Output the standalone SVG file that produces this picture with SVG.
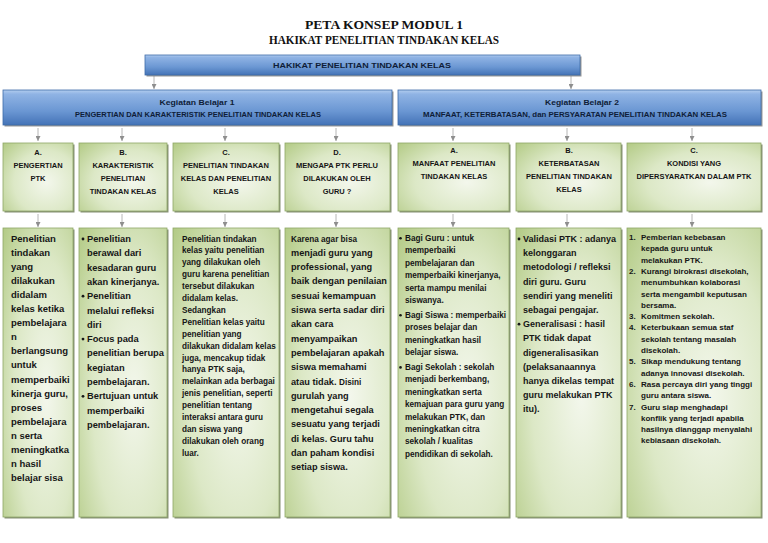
<svg xmlns="http://www.w3.org/2000/svg" width="768" height="543" viewBox="0 0 768 543">
<defs>
<linearGradient id="blue" x1="0" y1="0" x2="0" y2="1">
<stop offset="0" stop-color="#b3cdef"/>
<stop offset="0.12" stop-color="#8fb3e4"/>
<stop offset="0.6" stop-color="#6b97d3"/>
<stop offset="1" stop-color="#4473b7"/>
</linearGradient>
<radialGradient id="green" cx="0.62" cy="0.58" r="0.85">
<stop offset="0" stop-color="#f3f7ec"/>
<stop offset="0.55" stop-color="#dce8c6"/>
<stop offset="1" stop-color="#b2ca84"/>
</radialGradient>
<marker id="ah" markerUnits="userSpaceOnUse" markerWidth="5" markerHeight="5" refX="5" refY="2.5" orient="auto">
<path d="M0,0 L5,2.5 L0,5 z" fill="#8e8e8e"/>
</marker>
<style>
.title{font-family:"Liberation Serif","Times New Roman",serif;font-weight:bold;font-size:12px;fill:#111;}
.bbox{fill:url(#blue);stroke:#3e6ba9;stroke-width:0.8;}
.bsh{fill:#7d7d7d;opacity:0.8;}
.gbox{fill:url(#green);stroke:#8ea766;stroke-width:0.8;}
.gsh{fill:#5e6b47;opacity:0.75;}
.bt{font-family:"Liberation Sans",Arial,sans-serif;font-size:7.5px;font-weight:bold;fill:#0f1d38;text-anchor:middle;}
.bth{font-family:"Liberation Sans",Arial,sans-serif;font-size:8px;font-weight:bold;fill:#0f1d38;text-anchor:middle;}
.h3{font-family:"Liberation Sans",Arial,sans-serif;font-size:7.5px;font-weight:bold;fill:#161616;text-anchor:middle;}
.t{font-family:"Liberation Sans",Arial,sans-serif;font-weight:bold;fill:#161616;}
.conn line{stroke:#a3a3a3;stroke-width:0.8;marker-end:url(#ah);}
.dot{fill:#161616;}
</style>
</defs>
<rect width="768" height="543" fill="#ffffff"/>

<g id="title">
<text class="title" x="384" y="29" text-anchor="middle" textLength="158" lengthAdjust="spacingAndGlyphs">PETA KONSEP MODUL 1</text>
<text class="title" x="384" y="44" text-anchor="middle" textLength="230" lengthAdjust="spacingAndGlyphs">HAKIKAT PENELITIAN TINDAKAN KELAS</text>
</g>

<g class="conn" id="connectors">
<line x1="154" y1="76" x2="154" y2="89"/>
<line x1="571" y1="76" x2="571" y2="89"/>
<line x1="38" y1="128" x2="38" y2="141"/>
<line x1="122" y1="128" x2="122" y2="141"/>
<line x1="225" y1="128" x2="225" y2="141"/>
<line x1="336" y1="128" x2="336" y2="141"/>
<line x1="453" y1="128" x2="453" y2="141"/>
<line x1="567" y1="128" x2="567" y2="141"/>
<line x1="692" y1="128" x2="692" y2="141"/>
<line x1="38" y1="214" x2="38" y2="227"/>
<line x1="122" y1="214" x2="122" y2="227"/>
<line x1="225" y1="214" x2="225" y2="227"/>
<line x1="336" y1="214" x2="336" y2="227"/>
<line x1="453" y1="214" x2="453" y2="227"/>
<line x1="567" y1="214" x2="567" y2="227"/>
<line x1="692" y1="214" x2="692" y2="227"/>
</g>

<g id="root">
<rect class="bsh" x="146.5" y="56.5" width="435" height="20"/>
<rect class="bbox" x="145" y="55" width="435" height="20"/>
<text class="bth" x="362" y="68" textLength="178" lengthAdjust="spacingAndGlyphs">HAKIKAT PENELITIAN TINDAKAN KELAS</text>
</g>

<g id="kb1">
<rect class="bsh" x="4.5" y="91.5" width="389" height="35"/>
<rect class="bbox" x="3" y="90" width="389" height="35"/>
<text class="bt" x="197" y="104.5" textLength="75" lengthAdjust="spacingAndGlyphs">Kegiatan Belajar 1</text>
<text class="bt" x="198" y="116.5" textLength="246" lengthAdjust="spacingAndGlyphs">PENGERTIAN DAN KARAKTERISTIK PENELITIAN TINDAKAN KELAS</text>
</g>

<g id="kb2">
<rect class="bsh" x="399.5" y="91.5" width="363" height="35"/>
<rect class="bbox" x="398" y="90" width="363" height="35"/>
<text class="bt" x="582" y="104.5" textLength="74" lengthAdjust="spacingAndGlyphs">Kegiatan Belajar 2</text>
<text class="bt" x="575" y="116.5" textLength="304" lengthAdjust="spacingAndGlyphs">MANFAAT, KETERBATASAN, dan PERSYARATAN PENELITIAN TINDAKAN KELAS</text>
</g>

<!-- Level 3 -->
<g id="h-a1">
<rect class="gsh" x="4.5" y="144.5" width="70" height="68"/>
<rect class="gbox" x="3" y="143" width="70" height="68"/>
<text class="h3" x="38" y="155">A.</text>
<text class="h3" x="38" y="168">PENGERTIAN</text>
<text class="h3" x="38" y="181">PTK</text>
</g>
<g id="h-b1">
<rect class="gsh" x="80.5" y="144.5" width="88" height="68"/>
<rect class="gbox" x="79" y="143" width="88" height="68"/>
<text class="h3" x="123" y="155">B.</text>
<text class="h3" x="123" y="168">KARAKTERISTIK</text>
<text class="h3" x="123" y="181">PENELITIAN</text>
<text class="h3" x="123" y="194">TINDAKAN KELAS</text>
</g>
<g id="h-c1">
<rect class="gsh" x="174.5" y="144.5" width="106" height="68"/>
<rect class="gbox" x="173" y="143" width="106" height="68"/>
<text class="h3" x="226" y="155">C.</text>
<text class="h3" x="226" y="168">PENELITIAN TINDAKAN</text>
<text class="h3" x="226" y="181">KELAS DAN PENELITIAN</text>
<text class="h3" x="226" y="194">KELAS</text>
</g>
<g id="h-d1">
<rect class="gsh" x="286.5" y="144.5" width="105" height="68"/>
<rect class="gbox" x="285" y="143" width="105" height="68"/>
<text class="h3" x="337" y="155">D.</text>
<text class="h3" x="337" y="168">MENGAPA PTK PERLU</text>
<text class="h3" x="337" y="181">DILAKUKAN OLEH</text>
<text class="h3" x="337" y="194">GURU ?</text>
</g>
<g id="h-a2">
<rect class="gsh" x="399.5" y="144.5" width="111" height="68"/>
<rect class="gbox" x="398" y="143" width="111" height="68"/>
<text class="h3" x="454" y="153">A.</text>
<text class="h3" x="454" y="166">MANFAAT PENELITIAN</text>
<text class="h3" x="454" y="179">TINDAKAN KELAS</text>
</g>
<g id="h-b2">
<rect class="gsh" x="517.5" y="144.5" width="105" height="68"/>
<rect class="gbox" x="516" y="143" width="105" height="68"/>
<text class="h3" x="569" y="153">B.</text>
<text class="h3" x="569" y="166">KETERBATASAN</text>
<text class="h3" x="569" y="179">PENELITIAN TINDAKAN</text>
<text class="h3" x="569" y="192">KELAS</text>
</g>
<g id="h-c2">
<rect class="gsh" x="628.5" y="144.5" width="134" height="68"/>
<rect class="gbox" x="627" y="143" width="134" height="68"/>
<text class="h3" x="694" y="153">C.</text>
<text class="h3" x="694" y="166">KONDISI YANG</text>
<text class="h3" x="694" y="179">DIPERSYARATKAN DALAM PTK</text>
</g>

<!-- Level 4 -->
<g id="d-a1">
<rect class="gsh" x="4.5" y="229.5" width="70" height="289"/>
<rect class="gbox" x="3" y="228" width="70" height="289"/>
<text class="t" font-size="9.5" x="11" y="241.5">
<tspan x="11" dy="0">Penelitian</tspan>
<tspan x="11" dy="14.1">tindakan</tspan>
<tspan x="11" dy="14.1">yang</tspan>
<tspan x="11" dy="14.1">dilakukan</tspan>
<tspan x="11" dy="14.1">didalam</tspan>
<tspan x="11" dy="14.1">kelas ketika</tspan>
<tspan x="11" dy="14.1">pembelajara</tspan>
<tspan x="11" dy="14.1">n</tspan>
<tspan x="11" dy="14.1">berlangsung</tspan>
<tspan x="11" dy="14.1">untuk</tspan>
<tspan x="11" dy="14.1">memperbaiki</tspan>
<tspan x="11" dy="14.1">kinerja guru,</tspan>
<tspan x="11" dy="14.1">proses</tspan>
<tspan x="11" dy="14.1">pembelajara</tspan>
<tspan x="11" dy="14.1">n serta</tspan>
<tspan x="11" dy="14.1">meningkatka</tspan>
<tspan x="11" dy="14.1">n hasil</tspan>
<tspan x="11" dy="14.1">belajar sisa</tspan>
</text>
</g>

<g id="d-b1">
<rect class="gsh" x="80.5" y="229.5" width="88" height="289"/>
<rect class="gbox" x="79" y="228" width="88" height="289"/>
<circle class="dot" cx="83" cy="239" r="1.4"/>
<circle class="dot" cx="83" cy="296.2" r="1.4"/>
<circle class="dot" cx="83" cy="339.1" r="1.4"/>
<circle class="dot" cx="83" cy="396.3" r="1.4"/>
<text class="t" font-size="9.3" x="87" y="242">
<tspan x="87" dy="0">Penelitian</tspan>
<tspan x="87" dy="14.3">berawal dari</tspan>
<tspan x="87" dy="14.3">kesadaran guru</tspan>
<tspan x="87" dy="14.3">akan kinerjanya.</tspan>
<tspan x="87" dy="14.3">Penelitian</tspan>
<tspan x="87" dy="14.3">melalui refleksi</tspan>
<tspan x="87" dy="14.3">diri</tspan>
<tspan x="87" dy="14.3">Focus pada</tspan>
<tspan x="87" dy="14.3">penelitian berupa</tspan>
<tspan x="87" dy="14.3">kegiatan</tspan>
<tspan x="87" dy="14.3">pembelajaran.</tspan>
<tspan x="87" dy="14.3">Bertujuan untuk</tspan>
<tspan x="87" dy="14.3">memperbaiki</tspan>
<tspan x="87" dy="14.3">pembelajaran.</tspan>
</text>
</g>

<g id="d-c1">
<rect class="gsh" x="174.5" y="229.5" width="106" height="289"/>
<rect class="gbox" x="173" y="228" width="106" height="289"/>
<text class="t" font-size="8.2" x="182" y="241.5">
<tspan x="182" dy="0">Penelitian tindakan</tspan>
<tspan x="182" dy="11.9">kelas yaitu penelitian</tspan>
<tspan x="182" dy="11.9">yang dilakukan oleh</tspan>
<tspan x="182" dy="11.9">guru karena penelitian</tspan>
<tspan x="182" dy="11.9">tersebut dilakukan</tspan>
<tspan x="182" dy="11.9">didalam kelas.</tspan>
<tspan x="182" dy="11.9">Sedangkan</tspan>
<tspan x="182" dy="11.9">Penelitian kelas yaitu</tspan>
<tspan x="182" dy="11.9">penelitian yang</tspan>
<tspan x="182" dy="11.9">dilakukan didalam kelas</tspan>
<tspan x="182" dy="11.9">juga, mencakup tidak</tspan>
<tspan x="182" dy="11.9">hanya PTK saja,</tspan>
<tspan x="182" dy="11.9">melainkan ada berbagai</tspan>
<tspan x="182" dy="11.9">jenis penelitian, seperti</tspan>
<tspan x="182" dy="11.9">penelitian tentang</tspan>
<tspan x="182" dy="11.9">interaksi antara guru</tspan>
<tspan x="182" dy="11.9">dan siswa yang</tspan>
<tspan x="182" dy="11.9">dilakukan oleh orang</tspan>
<tspan x="182" dy="11.9">luar.</tspan>
</text>
</g>

<g id="d-d1">
<rect class="gsh" x="286.5" y="229.5" width="105" height="289"/>
<rect class="gbox" x="285" y="228" width="105" height="289"/>
<text class="t" font-size="9.2" x="291" y="241.5">
<tspan x="291" dy="0" font-size="8.2">Karena agar bisa</tspan>
<tspan x="291" dy="14.3">menjadi guru yang</tspan>
<tspan x="291" dy="14.3">professional, yang</tspan>
<tspan x="291" dy="14.3">baik dengan penilaian</tspan>
<tspan x="291" dy="14.3">sesuai kemampuan</tspan>
<tspan x="291" dy="14.3">siswa serta sadar diri</tspan>
<tspan x="291" dy="14.3">akan cara</tspan>
<tspan x="291" dy="14.3">menyampaikan</tspan>
<tspan x="291" dy="14.3">pembelajaran apakah</tspan>
<tspan x="291" dy="14.3">siswa memahami</tspan>
<tspan x="291" dy="14.3">atau tidak. <tspan font-size="8.2">Disini</tspan></tspan>
<tspan x="291" dy="14.3">gurulah yang</tspan>
<tspan x="291" dy="14.3">mengetahui segala</tspan>
<tspan x="291" dy="14.3">sesuatu yang terjadi</tspan>
<tspan x="291" dy="14.3">di kelas. Guru tahu</tspan>
<tspan x="291" dy="14.3">dan paham kondisi</tspan>
<tspan x="291" dy="14.3">setiap siswa.</tspan>
</text>
</g>

<g id="d-a2">
<rect class="gsh" x="399.5" y="229.5" width="111" height="289"/>
<rect class="gbox" x="398" y="228" width="111" height="289"/>
<circle class="dot" cx="400.5" cy="238.3" r="1.3"/>
<circle class="dot" cx="400.5" cy="315.2" r="1.3"/>
<circle class="dot" cx="400.5" cy="367.4" r="1.3"/>
<text class="t" font-size="8.2" x="405" y="241">
<tspan x="405" dy="0">Bagi Guru : untuk</tspan>
<tspan x="405" dy="12.4">memperbaiki</tspan>
<tspan x="405" dy="12.4">pembelajaran dan</tspan>
<tspan x="405" dy="12.4">memperbaiki kinerjanya,</tspan>
<tspan x="405" dy="12.4">serta mampu menilai</tspan>
<tspan x="405" dy="12.4">siswanya.</tspan>
<tspan x="405" dy="14.9">Bagi Siswa : memperbaiki</tspan>
<tspan x="405" dy="12.4">proses belajar dan</tspan>
<tspan x="405" dy="12.4">meningkatkan hasil</tspan>
<tspan x="405" dy="12.4">belajar siswa.</tspan>
<tspan x="405" dy="14.9">Bagi Sekolah : sekolah</tspan>
<tspan x="405" dy="12.4">menjadi berkembang,</tspan>
<tspan x="405" dy="12.4">meningkatkan serta</tspan>
<tspan x="405" dy="12.4">kemajuan para guru yang</tspan>
<tspan x="405" dy="12.4">melakukan PTK, dan</tspan>
<tspan x="405" dy="12.4">meningkatkan citra</tspan>
<tspan x="405" dy="12.4">sekolah / kualitas</tspan>
<tspan x="405" dy="12.4">pendidikan di sekolah.</tspan>
</text>
</g>

<g id="d-b2">
<rect class="gsh" x="517.5" y="229.5" width="105" height="289"/>
<rect class="gbox" x="516" y="228" width="105" height="289"/>
<circle class="dot" cx="519" cy="239" r="1.4"/>
<circle class="dot" cx="519" cy="324.2" r="1.4"/>
<text class="t" font-size="9" x="523" y="242">
<tspan x="523" dy="0">Validasi PTK : adanya</tspan>
<tspan x="523" dy="14.2">kelonggaran</tspan>
<tspan x="523" dy="14.2">metodologi / refleksi</tspan>
<tspan x="523" dy="14.2">diri guru. Guru</tspan>
<tspan x="523" dy="14.2">sendiri yang meneliti</tspan>
<tspan x="523" dy="14.2">sebagai pengajar.</tspan>
<tspan x="523" dy="14.2">Generalisasi : hasil</tspan>
<tspan x="523" dy="14.2">PTK tidak dapat</tspan>
<tspan x="523" dy="14.2">digeneralisasikan</tspan>
<tspan x="523" dy="14.2">(pelaksanaannya</tspan>
<tspan x="523" dy="14.2">hanya dikelas tempat</tspan>
<tspan x="523" dy="14.2">guru melakukan PTK</tspan>
<tspan x="523" dy="14.2">itu).</tspan>
</text>
</g>

<g id="d-c2">
<rect class="gsh" x="628.5" y="229.5" width="134" height="289"/>
<rect class="gbox" x="627" y="228" width="134" height="289"/>
<text class="t" font-size="8" x="629" y="240">
<tspan x="629" dy="0">1.</tspan>
<tspan x="629" dy="33.9">2.</tspan>
<tspan x="629" dy="45.2">3.</tspan>
<tspan x="629" dy="11.3">4.</tspan>
<tspan x="629" dy="33.9">5.</tspan>
<tspan x="629" dy="22.6">6.</tspan>
<tspan x="629" dy="22.6">7.</tspan>
</text>
<text class="t" font-size="8" x="641" y="240">
<tspan x="641" dy="0">Pemberian kebebasan</tspan>
<tspan x="641" dy="11.3">kepada guru untuk</tspan>
<tspan x="641" dy="11.3">melakukan PTK.</tspan>
<tspan x="641" dy="11.3">Kurangi birokrasi disekolah,</tspan>
<tspan x="641" dy="11.3">menumbuhkan kolaborasi</tspan>
<tspan x="641" dy="11.3">serta mengambil keputusan</tspan>
<tspan x="641" dy="11.3">bersama.</tspan>
<tspan x="641" dy="11.3">Komitmen sekolah.</tspan>
<tspan x="641" dy="11.3">Keterbukaan semua staf</tspan>
<tspan x="641" dy="11.3">sekolah tentang masalah</tspan>
<tspan x="641" dy="11.3">disekolah.</tspan>
<tspan x="641" dy="11.3">Sikap mendukung tentang</tspan>
<tspan x="641" dy="11.3">adanya innovasi disekolah.</tspan>
<tspan x="641" dy="11.3">Rasa percaya diri yang tinggi</tspan>
<tspan x="641" dy="11.3">guru antara siswa.</tspan>
<tspan x="641" dy="11.3">Guru siap menghadapi</tspan>
<tspan x="641" dy="11.3">konflik yang terjadi apabila</tspan>
<tspan x="641" dy="11.3">hasilnya dianggap menyalahi</tspan>
<tspan x="641" dy="11.3">kebiasaan disekolah.</tspan>
</text>
</g>
</svg>
